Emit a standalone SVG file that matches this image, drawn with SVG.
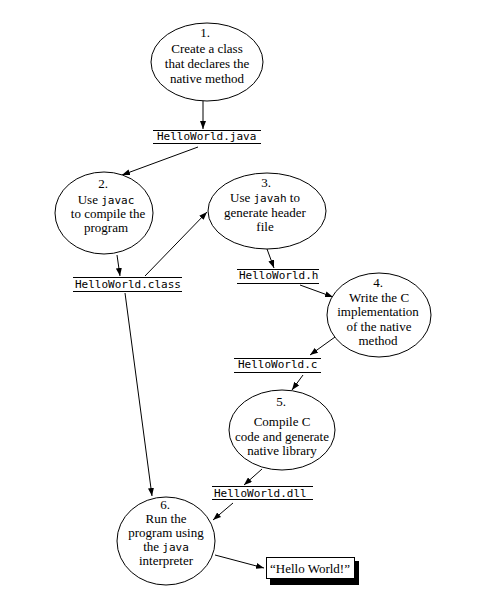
<svg xmlns="http://www.w3.org/2000/svg" width="502" height="595" viewBox="0 0 502 595">
<defs>
<marker id="ah" markerWidth="8" markerHeight="6" refX="8" refY="3" orient="auto" markerUnits="userSpaceOnUse">
<path d="M0,0 L8,3 L0,6 Z" fill="#000"/>
</marker>
<style>
.n{fill:#fff;stroke:#000;stroke-width:1}
.t{font-family:"Liberation Serif","Times New Roman",serif;font-size:13px;fill:#000;text-anchor:middle}
.m{font-family:"DejaVu Sans Mono","Liberation Mono",monospace;font-size:11px}
.lab{font-family:"DejaVu Sans Mono","Liberation Mono",monospace;font-size:11px;fill:#000}
.rule{stroke:#000;stroke-width:1}
.c{stroke:#000;stroke-width:1;fill:none;marker-end:url(#ah)}
</style>
</defs>
<rect width="502" height="595" fill="#fff"/>
<g id="connectors">
<line class="c" x1="203" y1="101" x2="203" y2="129"/>
<line class="c" x1="198" y1="147" x2="122" y2="175"/>
<line class="c" x1="117" y1="255" x2="120" y2="276"/>
<line class="c" x1="145" y1="276" x2="207" y2="212"/>
<line class="c" x1="267" y1="249" x2="274" y2="268"/>
<line class="c" x1="300" y1="285" x2="333" y2="297"/>
<line class="c" x1="335" y1="337" x2="310" y2="355"/>
<line class="c" x1="303" y1="375" x2="292" y2="390"/>
<line class="c" x1="262" y1="469" x2="244" y2="485"/>
<line class="c" x1="233" y1="503" x2="213" y2="520"/>
<line class="c" x1="125" y1="293" x2="152" y2="496"/>
<line class="c" x1="215" y1="555" x2="264" y2="568"/>
</g>
<g id="step1">
<ellipse class="n" cx="207" cy="62" rx="56" ry="39"/>
<text class="t" x="205" y="37">1.</text>
<text class="t" x="207" y="53">Create a class</text>
<text class="t" x="207" y="68">that declares the</text>
<text class="t" x="207" y="83">native method</text>
</g>
<g id="HelloWorld_java">
<line class="rule" x1="153" y1="130.5" x2="261" y2="130.5"/>
<line class="rule" x1="153" y1="143.5" x2="261" y2="143.5"/>
<text class="lab" x="157" y="140">HelloWorld.java</text>
</g>
<g id="step2">
<ellipse class="n" cx="104" cy="213" rx="49" ry="41"/>
<text class="t" x="103" y="188">2.</text>
<text class="t" x="106" y="204">Use <tspan class="m">javac</tspan></text>
<text class="t" x="108" y="218">to compile the</text>
<text class="t" x="106" y="232">program</text>
</g>
<g id="HelloWorld_class">
<line class="rule" x1="73" y1="277.5" x2="182" y2="277.5"/>
<line class="rule" x1="73" y1="291.5" x2="182" y2="291.5"/>
<text class="lab" x="75" y="288">HelloWorld.class</text>
</g>
<g id="step3">
<ellipse class="n" cx="267" cy="211" rx="59" ry="38"/>
<text class="t" x="266" y="187">3.</text>
<text class="t" x="265" y="202">Use <tspan class="m">javah</tspan> to</text>
<text class="t" x="265" y="217">generate header</text>
<text class="t" x="265" y="231">file</text>
</g>
<g id="HelloWorld_h">
<line class="rule" x1="237" y1="269.5" x2="319" y2="269.5"/>
<line class="rule" x1="237" y1="283.5" x2="319" y2="283.5"/>
<text class="lab" x="239" y="279">HelloWorld.h</text>
</g>
<g id="step4">
<ellipse class="n" cx="379" cy="315" rx="52" ry="42"/>
<text class="t" x="378" y="287">4.</text>
<text class="t" x="379" y="302">Write the C</text>
<text class="t" x="378" y="316">implementation</text>
<text class="t" x="379" y="331">of the native</text>
<text class="t" x="378" y="345">method</text>
</g>
<g id="HelloWorld_c">
<line class="rule" x1="234" y1="358.5" x2="321" y2="358.5"/>
<line class="rule" x1="234" y1="372.5" x2="321" y2="372.5"/>
<text class="lab" x="238" y="368">HelloWorld.c</text>
</g>
<g id="step5">
<ellipse class="n" cx="282" cy="430" rx="53" ry="40"/>
<text class="t" x="281" y="406">5.</text>
<text class="t" x="282" y="426">Compile C</text>
<text class="t" x="282" y="441">code and generate</text>
<text class="t" x="282" y="455">native library</text>
</g>
<g id="HelloWorld_dll">
<line class="rule" x1="212" y1="486.5" x2="313" y2="486.5"/>
<line class="rule" x1="212" y1="499.5" x2="313" y2="499.5"/>
<text class="lab" x="214" y="497">HelloWorld.dll</text>
</g>
<g id="step6">
<ellipse class="n" cx="166" cy="541" rx="49" ry="44"/>
<text class="t" x="165" y="509">6.</text>
<text class="t" x="166" y="523">Run the</text>
<text class="t" x="166" y="537">program using</text>
<text class="t" x="166" y="551">the <tspan class="m">java</tspan></text>
<text class="t" x="166" y="565">interpreter</text>
</g>
<g id="output">
<rect x="270" y="561" width="89" height="24" fill="#000"/>
<rect x="266.5" y="557.5" width="88" height="21" fill="#fff" stroke="#000" stroke-width="1"/>
<text class="t" x="310" y="573">“Hello World!”</text>
</g>
</svg>
